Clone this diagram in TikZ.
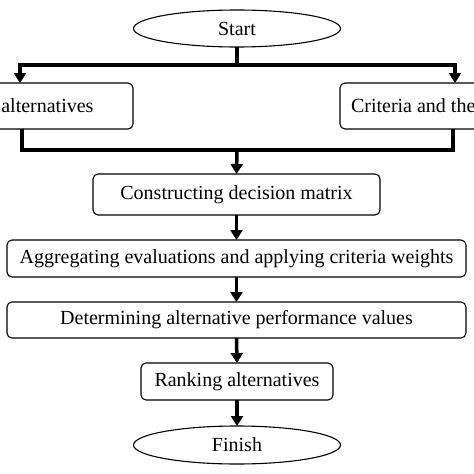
\documentclass[tikz,border=0pt]{standalone}
\usepackage{fontspec}
\setmainfont{Liberation Serif}
\usetikzlibrary{arrows.meta,shapes.geometric}
\begin{document}
\begin{tikzpicture}[x=1pt,y=-1pt,
  every node/.style={inner sep=0pt,outer sep=0pt,font=\fontsize{20}{24}\selectfont},
  box/.style={draw,line width=1.1pt,rounded corners=5pt,anchor=north west},
  term/.style={draw,ellipse,line width=1.1pt},
  flow/.style={line width=3.5pt,-{Triangle[width=12pt,length=10pt]}},
  bar/.style={line width=3.5pt}]
\useasboundingbox (0,0) rectangle (474,474);
\clip (0,0) rectangle (474,474);
\node[term,minimum width=207pt,minimum height=37pt] (start) at (237,28.5) {Start};
\node[box,minimum width=143pt,minimum height=46pt,align=flush right,text width=130pt] (lbox) at (-10,83) {alternatives\hspace*{33pt}\mbox{}};
\node[box,minimum width=150pt,minimum height=46pt,align=flush left,text width=140pt] (rbox) at (340,83) {\hspace*{6pt}Criteria and the};
\node[box,minimum width=287pt,minimum height=41pt] (cdm) at (93,174) {};
\node at (cdm.center) {Constructing decision matrix};
\node[box,minimum width=459pt,minimum height=37pt] (agg) at (7,240) {};
\node at (agg.center) {Aggregating evaluations and applying criteria weights};
\node[box,minimum width=459pt,minimum height=36pt] (det) at (7,302) {};
\node at (det.center) {Determining alternative performance values};
\node[box,minimum width=192pt,minimum height=37pt] (rank) at (141,363) {};
\node at (rank.center) {Ranking alternatives};
\node[term,minimum width=207pt,minimum height=38pt] (fin) at (237,445) {Finish};
\coordinate (split) at (237,65);
\coordinate (join) at (237,150);
\draw[bar] (start.south) -- (split);
\draw[flow] (split) -| (20,83);
\draw[flow] (split) -| (455,83);
\draw[bar] (22,129) |- (join);
\draw[bar] (453,129) |- (join);
\draw[flow] (join) -- (cdm.north);
\draw[flow] (cdm.south) -- (agg.north);
\draw[flow] (agg.south) -- (det.north);
\draw[flow] (det.south) -- (rank.north);
\draw[flow] (rank.south) -- (fin.north);
\end{tikzpicture}
\end{document}
